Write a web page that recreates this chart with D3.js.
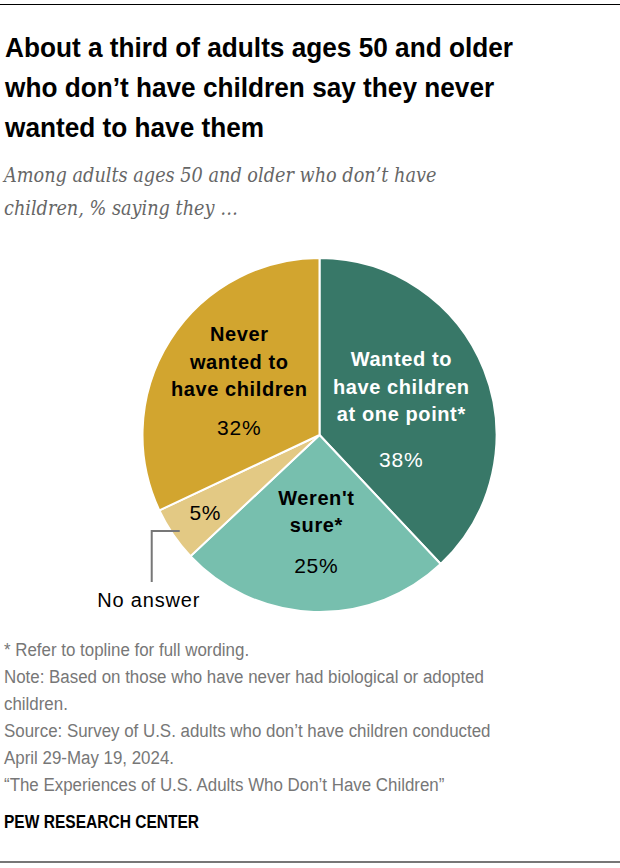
<!DOCTYPE html>
<html>
<head>
<meta charset="utf-8">
<script src="https://cdn.jsdelivr.net/npm/d3@7"></script>
<style>
  body { margin: 0; background: #fff; }
</style>
</head>
<body>
<div id="container"></div>
<script>
// data
let categories = ["Wanted to have children at one point*", "Weren't sure*", "No answer", "Never wanted to have children"];
let values = [38, 25, 5, 32];
let labelLines = [["Wanted to", "have children", "at one point*"], ["Weren't", "sure*"], [], ["Never", "wanted to", "have children"]];
let colors = ["#387868", "#77bfae", "#e3c984", "#d2a52f"];
let labelColors = ["#ffffff", "#000000", "#000000", "#000000"];

let w = 620;
let h = 868;
let cx = 319.5;
let cy = 435;
let radius = 177;
let sans = "'Liberation Sans', Arial, sans-serif";

let svg = d3.select("#container")
  .append("svg")
    .attr("width", w)
    .attr("height", h)
;

// top rule
svg.append("line")
  .attr("x1", 0).attr("x2", w)
  .attr("y1", 4.5).attr("y2", 4.5)
  .attr("stroke", "#000").attr("stroke-width", 1);

// title (squeezed to mimic a condensed face)
let title = ["About a third of adults ages 50 and older", "who don\u2019t have children say they never", "wanted to have them"];
svg.append("g")
  .attr("transform", "translate(5,0) scale(0.936,1)")
  .selectAll(".title").data(title).enter()
  .append("text")
    .attr("class", "title")
    .attr("x", 0)
    .attr("y", function(d, i){ return 57 + i*40; })
    .attr("font-family", sans)
    .attr("font-weight", "bold")
    .attr("font-size", "28px")
    .attr("fill", "#000")
    .text(function(d){ return d; });

let subtitle = ["Among adults ages 50 and older who don\u2019t have", "children, % saying they \u2026"];
svg.append("g")
  .attr("transform", "translate(4,0) scale(0.885,1)")
  .selectAll(".subtitle").data(subtitle).enter()
  .append("text")
    .attr("class", "subtitle")
    .attr("x", 0)
    .attr("y", function(d, i){ return 182 + i*33; })
    .attr("font-family", "Georgia, 'DejaVu Serif', serif")
    .attr("font-style", "italic")
    .attr("font-size", "20px")
    .attr("fill", "#666")
    .text(function(d){ return d; });

// pie
let pie = d3.pie().sort(null).value(function(d){ return d; });
let arcs = pie(values);
let arc = d3.arc().innerRadius(0).outerRadius(radius);

let pieGroup = svg.append("g")
  .attr("transform", "translate(" + cx + "," + cy + ")");

pieGroup.selectAll(".slice").data(arcs).enter()
  .append("path")
    .attr("class", "slice")
    .attr("d", arc)
    .attr("fill", function(d, i){ return colors[i]; })
    .attr("stroke", "#fff")
    .attr("stroke-width", 2);

// label layout
let labelRadius = [88, 100, 138, 95];
let labelDy = [7, -3, 0, -3];
let pctGaps = [46, 41, 40, 39];
let lineH = 27.5;

arcs.forEach(function(d, i){
  let la = d3.arc().innerRadius(labelRadius[i]).outerRadius(labelRadius[i]);
  let c = la.centroid(d);
  let lines = labelLines[i];
  let n = lines.length;
  let blockH = n > 0 ? (n - 1) * lineH + pctGaps[i] : 0;
  let top = c[1] - blockH / 2 + 7 + labelDy[i];
  let g = pieGroup.append("g").attr("class", "label");
  lines.forEach(function(t, j){
    g.append("text")
      .attr("x", c[0])
      .attr("y", top + j*lineH)
      .attr("text-anchor", "middle")
      .attr("font-family", sans)
      .attr("font-weight", "bold")
      .attr("font-size", "20px")
      .attr("letter-spacing", "0.6px")
      .attr("fill", labelColors[i])
      .text(t);
  });
  g.append("text")
    .attr("x", c[0])
    .attr("y", top + blockH)
    .attr("text-anchor", "middle")
    .attr("font-family", sans)
    .attr("font-size", "21px")
    .attr("letter-spacing", "0.8px")
    .attr("fill", labelColors[i])
    .text(values[i] + "%");
});

// leader for "No answer"
let small = arcs[2];
let edge = d3.arc().innerRadius(radius - 8).outerRadius(radius - 8).centroid(small);
let lx = edge[0] - 28;
pieGroup.append("path")
  .attr("d", "M" + edge[0] + "," + (edge[1] + 1) + "H" + lx + "V" + (edge[1] + 52))
  .attr("fill", "none")
  .attr("stroke", "#777")
  .attr("stroke-width", 2);
pieGroup.append("text")
  .attr("x", lx - 3)
  .attr("y", edge[1] + 77)
  .attr("text-anchor", "middle")
  .attr("font-family", sans)
  .attr("font-size", "20px")
  .attr("letter-spacing", "0.8px")
  .attr("fill", "#000")
  .text(categories[2]);

// footer
let notes = [
  "* Refer to topline for full wording.",
  "Note: Based on those who have never had biological or adopted",
  "children.",
  "Source: Survey of U.S. adults who don\u2019t have children conducted",
  "April 29-May 19, 2024.",
  "\u201cThe Experiences of U.S. Adults Who Don\u2019t Have Children\u201d"
];
svg.append("g")
  .attr("transform", "translate(4,0) scale(0.89,1)")
  .selectAll(".note").data(notes).enter()
  .append("text")
    .attr("class", "note")
    .attr("x", 0)
    .attr("y", function(d, i){ return 656 + i*27; })
    .attr("font-family", sans)
    .attr("font-size", "19px")
    .attr("fill", "#777")
    .text(function(d){ return d; });

svg.append("text")
  .attr("transform", "translate(4,828) scale(0.84,1)")
  .attr("font-family", sans)
  .attr("font-weight", "bold")
  .attr("font-size", "18.5px")
  .attr("fill", "#000")
  .text("PEW RESEARCH CENTER");

svg.append("line")
  .attr("x1", 0).attr("x2", w)
  .attr("y1", 862).attr("y2", 862)
  .attr("stroke", "#777").attr("stroke-width", 2);
</script>
</body>
</html>
